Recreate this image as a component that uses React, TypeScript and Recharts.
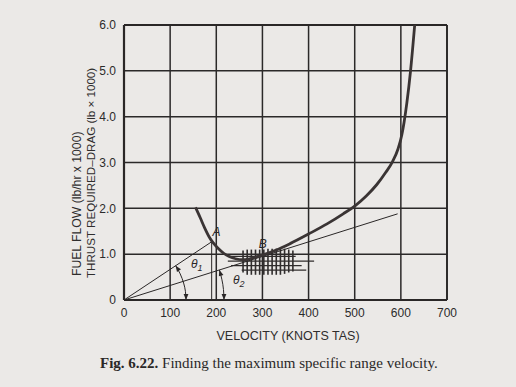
import React from 'react';
import {
  ComposedChart,
  Line,
  XAxis,
  YAxis,
  CartesianGrid,
  ReferenceLine,
  ReferenceDot,
} from 'recharts';

// Velocity ticks (knots TAS) and fuel-flow / thrust ticks (x1000)
const xTicks = [0, 100, 200, 300, 400, 500, 600, 700];
const yTicks = [0, 1, 2, 3, 4, 5, 6];

// Thrust required (drag) curve
const thrustCurve = [
  { x: 155, y: 2.02 },
  { x: 165, y: 1.8 },
  { x: 175, y: 1.57 },
  { x: 185, y: 1.37 },
  { x: 193, y: 1.25 },
  { x: 205, y: 1.12 },
  { x: 216, y: 1.02 },
  { x: 228, y: 0.95 },
  { x: 242, y: 0.9 },
  { x: 257, y: 0.88 },
  { x: 272, y: 0.9 },
  { x: 287, y: 0.94 },
  { x: 300, y: 0.98 },
  { x: 330, y: 1.09 },
  { x: 360, y: 1.23 },
  { x: 400, y: 1.44 },
  { x: 440, y: 1.66 },
  { x: 475, y: 1.88 },
  { x: 500, y: 2.05 },
  { x: 525, y: 2.27 },
  { x: 548, y: 2.52 },
  { x: 567, y: 2.78 },
  { x: 582, y: 3.02 },
  { x: 594, y: 3.3 },
  { x: 602, y: 3.6 },
  { x: 607, y: 3.88 },
  { x: 613, y: 4.3 },
  { x: 621, y: 5.0 },
  { x: 630, y: 6.0 },
];

// Tangent / secant lines from the origin
const lineToA = [
  { x: 0, y: 0 },
  { x: 190, y: 1.27 },
];
const lineTangentB = [
  { x: 0, y: 0 },
  { x: 593, y: 1.88 },
];

// Angle arcs (theta1, theta2)
const arcTheta1 = [
  { x: 111.9, y: 0.75 },
  { x: 121.8, y: 0.57 },
  { x: 129.2, y: 0.37 },
  { x: 133.1, y: 0.19 },
  { x: 134.4, y: 0 },
];
const arcTheta2 = [
  { x: 206.7, y: 0.656 },
  { x: 212.0, y: 0.454 },
  { x: 215.6, y: 0.228 },
  { x: 216.7, y: 0 },
];

// Arrow heads at the arc ends (angle = screen direction of tip, degrees)
const arrowHeads = [
  { x: 111.9, y: 0.75, angle: -124 },
  { x: 134.4, y: 0, angle: 90 },
  { x: 206.7, y: 0.656, angle: -107 },
  { x: 216.7, y: 0, angle: 90 },
];

// Cross-hatched region around the minimum
const hatchRows = [
  { y: 0.95, x1: 228, x2: 372 },
  { y: 0.85, x1: 225, x2: 412 },
  { y: 0.75, x1: 232, x2: 385 },
  { y: 0.65, x1: 255, x2: 395 },
];
const hatchCols = [
  { x: 258, y1: 0.6, y2: 1.08 },
  { x: 267, y1: 0.55, y2: 1.1 },
  { x: 276, y1: 0.55, y2: 1.1 },
  { x: 285, y1: 0.55, y2: 1.1 },
  { x: 294, y1: 0.55, y2: 1.1 },
  { x: 303, y1: 0.55, y2: 1.1 },
  { x: 312, y1: 0.55, y2: 1.12 },
  { x: 321, y1: 0.55, y2: 1.12 },
  { x: 330, y1: 0.55, y2: 1.12 },
  { x: 339, y1: 0.55, y2: 1.12 },
  { x: 348, y1: 0.57, y2: 1.12 },
  { x: 357, y1: 0.6, y2: 1.1 },
  { x: 366, y1: 0.62, y2: 1.08 },
];

// Drop line from point A
const dropA = [
  { x: 190, y: 0 },
  { x: 190, y: 1.27 },
];

// Text annotations
const notes = [
  { x: 192, y: 1.4, text: 'A', sub: '' },
  { x: 292, y: 1.13, text: 'B', sub: '' },
  { x: 145, y: 0.7, text: 'θ', sub: '1' },
  { x: 236, y: 0.36, text: 'θ', sub: '2' },
];

const INK = '#2a2727';
const GRID = '#2b2929';
const SANS = '"Liberation Sans", Arial, sans-serif';
const SERIF = '"Liberation Serif", "Times New Roman", serif';

const yFmt = (v: number) => (v === 0 ? '0' : v.toFixed(1));

const YLabel = () => (
  <g>
    <text
      transform="translate(81,276) rotate(-90)"
      textAnchor="start"
      fontFamily={SANS}
      fontSize={12.2}
      fill="#2f2d2d"
    >
      FUEL FLOW (lb/hr x 1000)
    </text>
    <text
      transform="translate(95,278) rotate(-90)"
      textAnchor="start"
      fontFamily={SANS}
      fontSize={11.6}
      fill="#2f2d2d"
    >
      THRUST REQUIRED–DRAG (lb × 1000)
    </text>
  </g>
);

const XLabel = () => (
  <g>
    <text x={288} y={340} textAnchor="middle" fontFamily={SANS} fontSize={12.5} fill="#2f2d2d">
      VELOCITY (KNOTS TAS)
    </text>
    <text x={100} y={368} textAnchor="start" fontFamily={SERIF} fontSize={15} fill="#2a2828">
      <tspan fontWeight="bold">Fig. 6.22.</tspan>
      <tspan> Finding the maximum specific range velocity.</tspan>
    </text>
  </g>
);

const Arrow = ({ cx, cy, angle }: { cx: number; cy: number; angle: number }) => (
  <polygon
    points="0,0 -6,-2.4 -6,2.4"
    fill={INK}
    transform={`translate(${cx},${cy}) rotate(${angle})`}
  />
);

const Note = ({ cx, cy, text, sub }: { cx: number; cy: number; text: string; sub: string }) => (
  <text x={cx} y={cy} fontFamily={SANS} fontStyle="italic" fontSize={12} fill={INK}>
    {text}
    {sub ? (
      <tspan fontSize={9} dy={3}>
        {sub}
      </tspan>
    ) : null}
  </text>
);

export default function App() {
  return (
    <div
      style={{
        position: 'absolute',
        left: 0,
        top: 0,
        width: 516,
        height: 387,
        background: '#ebe9e7',
      }}
    >
      <ComposedChart
        width={516}
        height={387}
        margin={{ top: 25, right: 69, bottom: 57, left: 74 }}
      >
        <CartesianGrid stroke={GRID} strokeWidth={1.5} strokeDasharray="" />
        <XAxis
          dataKey="x"
          type="number"
          domain={[0, 700]}
          ticks={xTicks}
          interval={0}
          allowDataOverflow
          height={30}
          tickLine={false}
          axisLine={{ stroke: INK, strokeWidth: 2.2 }}
          tick={{ fill: '#2b2b2b', fontSize: 12, fontFamily: SANS }}
          label={{ content: () => <XLabel /> }}
        />
        <YAxis
          type="number"
          domain={[0, 6]}
          ticks={yTicks}
          interval={0}
          allowDataOverflow
          width={50}
          tickLine={false}
          tickFormatter={yFmt}
          axisLine={{ stroke: INK, strokeWidth: 2.2 }}
          tick={{ fill: '#2b2b2b', fontSize: 12, fontFamily: SANS }}
          label={{ content: () => <YLabel /> }}
        />
        <ReferenceLine y={6} stroke={INK} strokeWidth={1.8} />
        <ReferenceLine x={700} stroke={INK} strokeWidth={1.8} />

        {hatchRows.map((r, i) => (
          <ReferenceLine
            key={'hr' + i}
            segment={[
              { x: r.x1, y: r.y },
              { x: r.x2, y: r.y },
            ]}
            stroke="#302d2d"
            strokeWidth={1.3}
          />
        ))}
        {hatchCols.map((c, i) => (
          <ReferenceLine
            key={'hc' + i}
            segment={[
              { x: c.x, y: c.y1 },
              { x: c.x, y: c.y2 },
            ]}
            stroke="#302d2d"
            strokeWidth={1.6}
          />
        ))}
        <ReferenceLine
          segment={[dropA[0], dropA[1]]}
          stroke={INK}
          strokeWidth={1}
        />

        <Line
          data={lineToA}
          dataKey="y"
          type="linear"
          stroke={INK}
          strokeWidth={1}
          dot={false}
          isAnimationActive={false}
        />
        <Line
          data={lineTangentB}
          dataKey="y"
          type="linear"
          stroke={INK}
          strokeWidth={1}
          dot={false}
          isAnimationActive={false}
        />
        <Line
          data={arcTheta1}
          dataKey="y"
          type="natural"
          stroke={INK}
          strokeWidth={1}
          dot={false}
          isAnimationActive={false}
        />
        <Line
          data={arcTheta2}
          dataKey="y"
          type="natural"
          stroke={INK}
          strokeWidth={1}
          dot={false}
          isAnimationActive={false}
        />
        <Line
          data={thrustCurve}
          dataKey="y"
          type="monotone"
          stroke="#3a3434"
          strokeWidth={2.8}
          dot={false}
          isAnimationActive={false}
        />

        {arrowHeads.map((a, i) => (
          <ReferenceDot
            key={'ah' + i}
            x={a.x}
            y={a.y}
            r={0}
            ifOverflow="visible"
            shape={(p: any) => <Arrow cx={p.cx} cy={p.cy} angle={a.angle} />}
          />
        ))}
        {notes.map((n, i) => (
          <ReferenceDot
            key={'nt' + i}
            x={n.x}
            y={n.y}
            r={0}
            ifOverflow="visible"
            shape={(p: any) => <Note cx={p.cx} cy={p.cy} text={n.text} sub={n.sub} />}
          />
        ))}
      </ComposedChart>
    </div>
  );
}
